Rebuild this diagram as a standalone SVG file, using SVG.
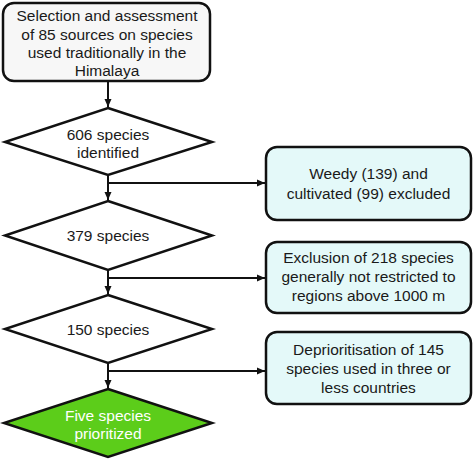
<svg xmlns="http://www.w3.org/2000/svg" width="474" height="459" viewBox="0 0 474 459">
<defs>
<marker id="ah" markerWidth="8" markerHeight="8" refX="8" refY="4" orient="auto" markerUnits="userSpaceOnUse">
<path d="M0,0.5 L8,4 L0,7.5 Z" fill="#111"/>
</marker>
<style>
.t{font-family:"Liberation Sans",Arial,sans-serif;font-size:15.5px;fill:#1a1a1a;text-anchor:middle}
.w{fill:#ffffff}
.box{fill:#f7f7f7;stroke:#111;stroke-width:2.5}
.rb{fill:#e4f9f9;stroke:#111;stroke-width:2.5}
.dia{fill:#ffffff;stroke:#111;stroke-width:2.5;stroke-linejoin:miter}
.grn{fill:#5ccd1a;stroke:#111;stroke-width:2.5}
.c{fill:none;stroke:#111;stroke-width:2}
</style>
</defs>
<rect width="474" height="459" fill="#ffffff"/>
<g id="connectors">
<line class="c" x1="108" y1="81" x2="108" y2="107" marker-end="url(#ah)"/>
<line class="c" x1="108" y1="175" x2="108" y2="200" marker-end="url(#ah)"/>
<line class="c" x1="108" y1="183" x2="265" y2="183" marker-end="url(#ah)"/>
<line class="c" x1="108" y1="270" x2="108" y2="294" marker-end="url(#ah)"/>
<line class="c" x1="108" y1="278" x2="265" y2="278" marker-end="url(#ah)"/>
<line class="c" x1="108" y1="363" x2="108" y2="388" marker-end="url(#ah)"/>
<line class="c" x1="108" y1="371" x2="265" y2="371" marker-end="url(#ah)"/>
</g>
<g id="start">
<rect class="box" x="3" y="3" width="207" height="78" rx="11"/>
<text class="t" x="107" y="21">Selection and assessment</text>
<text class="t" x="107" y="39.5">of 85 sources on species</text>
<text class="t" x="107" y="58">used traditionally in the</text>
<text class="t" x="107" y="76">Himalaya</text>
</g>
<g id="d606">
<polygon class="dia" points="108,108 212,142 108,175 5,142"/>
<text class="t" x="108" y="140">606 species</text>
<text class="t" x="108" y="157.5">identified</text>
</g>
<g id="d379">
<polygon class="dia" points="108,201 212,235.5 108,270 5,235.5"/>
<text class="t" x="108" y="240.5">379 species</text>
</g>
<g id="d150">
<polygon class="dia" points="108,295 212,329 108,363 5,329"/>
<text class="t" x="108" y="334.5">150 species</text>
</g>
<g id="dfive">
<polygon class="grn" points="108,389 212,423 108,457 4,423"/>
<text class="t w" x="108" y="421">Five species</text>
<text class="t w" x="108" y="438.5">prioritized</text>
</g>
<g id="weedy">
<rect class="rb" x="266" y="147" width="205" height="73" rx="11"/>
<text class="t" x="368.5" y="179">Weedy (139) and</text>
<text class="t" x="368.5" y="199">cultivated (99) excluded</text>
</g>
<g id="exclusion">
<rect class="rb" x="266" y="242" width="205" height="71" rx="11"/>
<text class="t" x="368.5" y="263">Exclusion of 218 species</text>
<text class="t" x="368.5" y="282">generally not restricted to</text>
<text class="t" x="368.5" y="301">regions above 1000 m</text>
</g>
<g id="deprio">
<rect class="rb" x="266" y="332" width="205" height="72" rx="11"/>
<text class="t" x="368.5" y="355">Deprioritisation of 145</text>
<text class="t" x="368.5" y="374">species used in three or</text>
<text class="t" x="368.5" y="392.5">less countries</text>
</g>
</svg>
